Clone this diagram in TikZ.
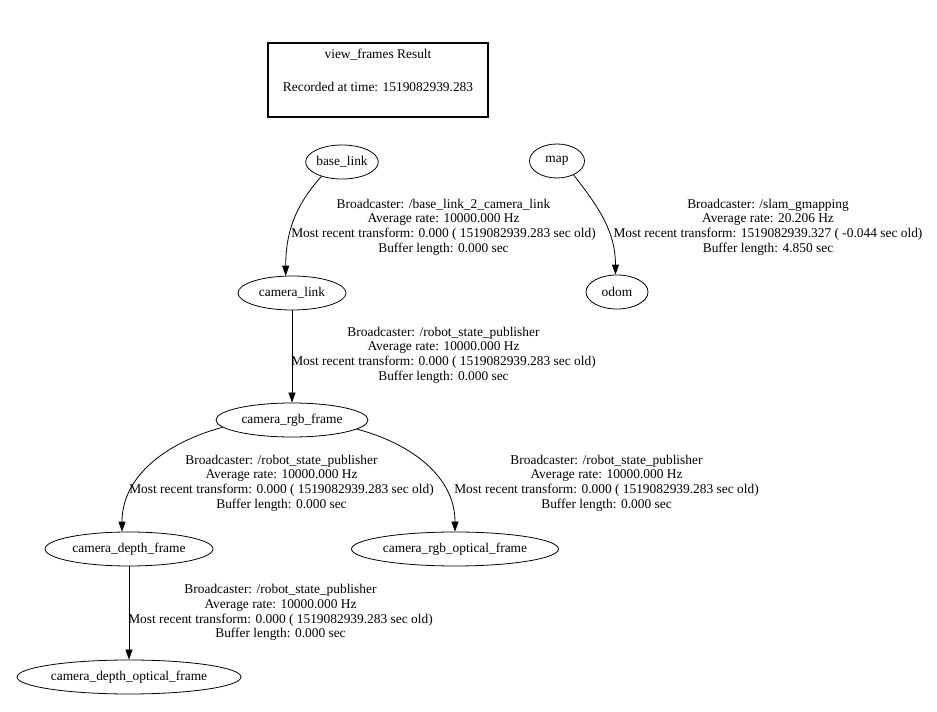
\documentclass[tikz,border=0pt]{standalone}
\usepackage{fontspec}
\setmainfont{Liberation Serif}
\usetikzlibrary{arrows.meta,shapes.geometric}
\begin{document}
\begin{tikzpicture}[x=1pt,y=1pt,line width=0.8pt,>={Triangle[length=10pt,width=7pt]},
    frame/.style={draw,ellipse,inner sep=0pt,minimum height=34pt,font=\fontsize{13.4}{15}\selectfont},
    info/.style={align=center,font=\fontsize{13.4}{14.7}\selectfont}]
  \useasboundingbox(0,0)rectangle(937,712);
  \node[draw,line width=1.6pt,minimum width=220pt,minimum height=74pt](title)at(378,632){};
  \node[info]at([yshift=-12pt]title.north){view\_frames Result};
  \node[info]at([yshift=-45pt]title.north){Recorded at time: 1519082939.283};
  % frames
  \node[frame,minimum width=66pt](base)at(342,550){base\_link};
  \node[frame,minimum width=55pt](map)at(557,551){map};
  \node[frame,minimum width=108pt](clink)at(292,419){camera\_link};
  \node[frame,minimum width=62pt](odom)at(617,420){odom};
  \node[frame,minimum width=152pt](rgb)at(292,292){camera\_rgb\_frame};
  \node[frame,minimum width=168pt](depth)at(129,163){camera\_depth\_frame};
  \node[frame,minimum width=207pt](ropt)at(455,163){camera\_rgb\_optical\_frame};
  \node[frame,minimum width=224pt](dopt)at(129,35){camera\_depth\_optical\_frame};
  % transforms
  \draw[->](base.215)to[out=228,in=90](clink.110);
  \draw[->](map.-40)to[out=-52,in=90](odom.95);
  \draw[->](clink)--(rgb);
  \draw[->](rgb.186)to[out=195,in=90](depth.112);
  \draw[->](rgb.-8)to[out=-15,in=90](ropt.90);
  \draw[->](depth)--(dopt);
  % broadcaster labels
  \node[info]at(443.5,485){Broadcaster: /base\_link\_2\_camera\_link\\Average rate: 10000.000 Hz\\Most recent transform: 0.000 ( 1519082939.283 sec old)\\Buffer length: 0.000 sec};
  \node[info]at(768,485){Broadcaster: /slam\_gmapping\\Average rate: 20.206 Hz\\Most recent transform: 1519082939.327 ( -0.044 sec old)\\Buffer length: 4.850 sec};
  \node[info]at(443.5,357){Broadcaster: /robot\_state\_publisher\\Average rate: 10000.000 Hz\\Most recent transform: 0.000 ( 1519082939.283 sec old)\\Buffer length: 0.000 sec};
  \node[info]at(281.5,229){Broadcaster: /robot\_state\_publisher\\Average rate: 10000.000 Hz\\Most recent transform: 0.000 ( 1519082939.283 sec old)\\Buffer length: 0.000 sec};
  \node[info]at(606.5,229){Broadcaster: /robot\_state\_publisher\\Average rate: 10000.000 Hz\\Most recent transform: 0.000 ( 1519082939.283 sec old)\\Buffer length: 0.000 sec};
  \node[info]at(280.5,99.5){Broadcaster: /robot\_state\_publisher\\Average rate: 10000.000 Hz\\Most recent transform: 0.000 ( 1519082939.283 sec old)\\Buffer length: 0.000 sec};
\end{tikzpicture}
\end{document}
